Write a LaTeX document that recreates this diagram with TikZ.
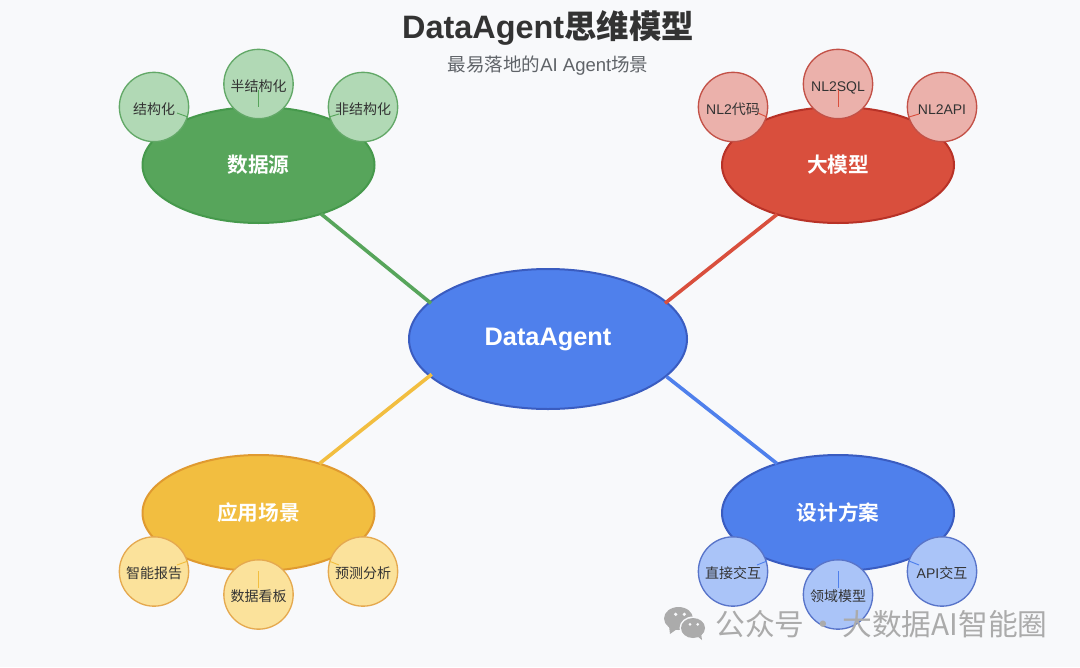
\documentclass[tikz,border=0pt]{standalone}
\usepackage{fontspec}
\setmainfont{Liberation Sans}
\newfontfamily\cjk{Noto Sans CJK SC}
\newfontfamily\cjkbold{Noto Sans CJK SC Bold}
\usetikzlibrary{shapes.geometric}

\definecolor{pagebg}{HTML}{F8F9FB}
\definecolor{inkdark}{HTML}{333333}
\definecolor{inkgrey}{HTML}{5F6368}
\definecolor{markgrey}{HTML}{ABABAB}
\definecolor{bluefill}{HTML}{4F80EC}
\definecolor{blueline}{HTML}{3A5CC0}
\definecolor{bluesoft}{HTML}{AAC4F8}
\definecolor{greenfill}{HTML}{57A55B}
\definecolor{greenline}{HTML}{46994C}
\definecolor{greensoft}{HTML}{B1D9B5}
\definecolor{redfill}{HTML}{D94F3D}
\definecolor{redline}{HTML}{B83227}
\definecolor{redsoft}{HTML}{EBB1AB}
\definecolor{yellowfill}{HTML}{F2BE40}
\definecolor{yellowline}{HTML}{E09A30}
\definecolor{yellowsoft}{HTML}{FBE29B}

\tikzset{
  hub/.style={ellipse, draw=#1line, fill=#1fill, line width=1.5pt, outer sep=0pt, inner sep=0pt,
    minimum width=174pt, minimum height=87pt, text=white, font=\cjkbold\fontsize{15.5}{15.5}\selectfont},
  leaf/.style={circle, draw=#1line!85!white, fill=#1soft, line width=1pt, outer sep=0pt, inner sep=0pt,
    minimum size=52pt, text height=10.5pt, text depth=0pt, text=inkdark, font=\cjk\fontsize{10.5}{10.5}\selectfont},
  spoke/.style={#1fill, line width=2.7pt},
  stub/.style={#1fill, line width=0.7pt},
}

\begin{document}
\begin{tikzpicture}[x=0.75pt,y=-0.75pt]

  \useasboundingbox[fill=pagebg] (0, 0) rectangle (1080, 667);

  \node [text=inkdark, font=\bfseries\fontsize{24.3}{24.3}\selectfont] (title) at (548, 28) {DataAgent{\cjkbold 思维模型}};
  \node [text=inkgrey, font=\fontsize{13.9}{13.9}\selectfont] (subtitle) at (548, 66) {{\cjk 最易落地的}AI Agent{\cjk 场景}};

  \node [hub=blue, minimum width=208.5pt, minimum height=105pt, font=\bfseries\fontsize{19}{19}\selectfont] (agent) at (548, 339) {DataAgent};

  \node [hub=green] (source) at (258.5, 165) {数据源};
  \node [hub=red] (model) at (838, 165) {大模型};
  \node [hub=yellow] (scene) at (258.5, 513) {应用场景};
  \node [hub=blue] (design) at (838, 513) {设计方案};

  \coordinate (agentnw) at (431, 303.3);
  \coordinate (agentne) at (665, 303.3);
  \coordinate (agentsw) at (431.7, 374.3);
  \coordinate (agentse) at (666.7, 376.7);

  \draw [spoke=green] (source.-38.7) -- (agentnw);
  \draw [spoke=red] (model.219) -- (agentne);
  \draw [spoke=yellow] (scene.39) -- (agentsw);
  \draw [spoke=blue] (design.141) -- (agentse);

  \node [leaf=green] (structured) at (154, 107) {结构化};
  \node [leaf=green] (semi) at (258.5, 84) {半结构化};
  \node [leaf=green] (unstructured) at (363, 107) {非结构化};

  \node [leaf=red] (nlcode) at (733, 107) {{\rmfamily NL2}代码};
  \node [leaf=red] (nlsql) at (838, 84) {{\rmfamily NL2SQL}};
  \node [leaf=red] (nlapi) at (942, 107) {{\rmfamily NL2API}};

  \node [leaf=yellow] (report) at (154, 571.5) {智能报告};
  \node [leaf=yellow] (board) at (258.5, 594.5) {数据看板};
  \node [leaf=yellow] (forecast) at (363, 571.5) {预测分析};

  \node [leaf=blue] (direct) at (733, 571.5) {直接交互};
  \node [leaf=blue] (domain) at (838, 594.5) {领域模型};
  \node [leaf=blue] (apitalk) at (942, 571.5) {{\rmfamily API}交互};

  % short ends left over from the hub links
  \coordinate (a1) at (177, 113);  \coordinate (a2) at (188, 117);
  \coordinate (b1) at (258.5, 90); \coordinate (b2) at (258.5, 107);
  \coordinate (c1) at (339, 114);  \coordinate (c2) at (329, 117);
  \draw [stub=green] (a1) -- (a2);
  \draw [stub=green] (b1) -- (b2);
  \draw [stub=green] (c1) -- (c2);

  \coordinate (d1) at (758, 113);  \coordinate (d2) at (767, 117);
  \coordinate (e1) at (838, 90);   \coordinate (e2) at (838, 107);
  \coordinate (f1) at (919, 114);  \coordinate (f2) at (909, 117);
  \draw [stub=red] (d1) -- (d2);
  \draw [stub=red] (e1) -- (e2);
  \draw [stub=red] (f1) -- (f2);

  \coordinate (g1) at (177, 565);  \coordinate (g2) at (188, 561);
  \coordinate (h1) at (258.5, 571); \coordinate (h2) at (258.5, 588);
  \coordinate (i1) at (339, 565);  \coordinate (i2) at (329, 561);
  \draw [stub=yellow] (g1) -- (g2);
  \draw [stub=yellow] (h1) -- (h2);
  \draw [stub=yellow] (i1) -- (i2);

  \coordinate (j1) at (757, 565);  \coordinate (j2) at (767, 561);
  \coordinate (k1) at (838, 571);  \coordinate (k2) at (838, 588);
  \coordinate (l1) at (919, 565);  \coordinate (l2) at (909, 561);
  \draw [stub=blue] (j1) -- (j2);
  \draw [stub=blue] (k1) -- (k2);
  \draw [stub=blue] (l1) -- (l2);

  % watermark
  \fill [markgrey] (678.5, 618.5) ellipse [x radius=14.5, y radius=11.5];
  \fill [markgrey] (669, 626) -- (670, 634) -- (677, 629) -- cycle;
  \fill [pagebg] (675.7, 614.3) circle [radius=1.8];
  \fill [pagebg] (684.3, 614.3) circle [radius=1.8];
  \fill [pagebg] (693, 628) ellipse [x radius=13.5, y radius=11.5];
  \fill [markgrey] (693, 628) ellipse [x radius=12, y radius=10];
  \fill [markgrey] (697, 636) -- (702, 640) -- (701, 633) -- cycle;
  \fill [pagebg] (690, 624.3) circle [radius=1.5];
  \fill [pagebg] (697.7, 624.3) circle [radius=1.5];
  \node [text=markgrey, anchor=west, inner sep=0pt, font=\cjk\fontsize{22.3}{22.3}\selectfont] (mark) at (715, 624) {公众号\hspace{-1.9pt} · \hspace{-1.9pt}大数据AI智能圈};

\end{tikzpicture}
\end{document}
